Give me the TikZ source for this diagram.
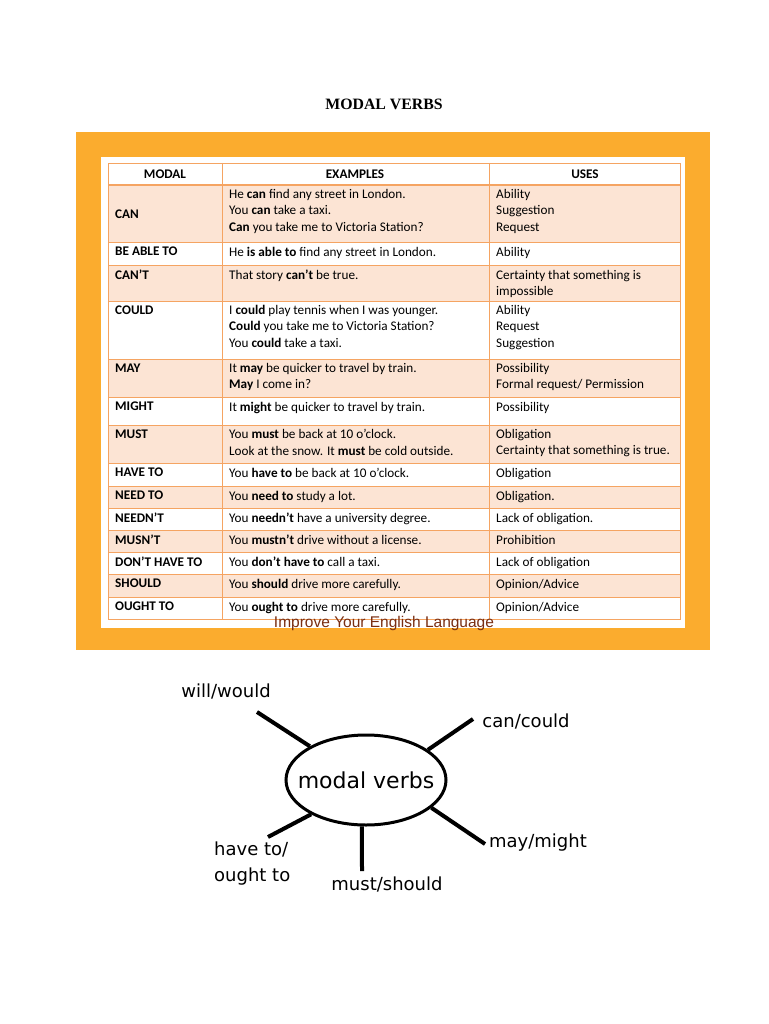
\documentclass[tikz,border=0pt]{standalone}
\usepackage{fontspec}
\usetikzlibrary{shapes.geometric}
\setmainfont{Carlito}
\newfontfamily\mapfont{DejaVu Sans}
\newfontfamily\titlefont{Liberation Serif}
\newfontfamily\arialfont{Liberation Sans}
\definecolor{outer}{HTML}{FBAC2E}
\definecolor{peach}{HTML}{FCE4D4}
\definecolor{grid}{HTML}{F5A462}
\definecolor{wm}{HTML}{7A2E12}
\begin{document}
\begin{tikzpicture}[x=1pt,y=-1pt,
  cell/.style={anchor=north west,inner sep=0pt,align=left,font=\fontsize{13.2}{16.5}\selectfont},
  hdr/.style={inner sep=0pt,font=\fontsize{13.2}{14}\selectfont\bfseries},
  mlab/.style={font=\mapfont\fontsize{18}{26}\selectfont,inner sep=0pt,align=left},
  spoke/.style={line width=4pt}]
\useasboundingbox[fill=white] (0,0) rectangle (768,1024);
\node[font=\titlefont\bfseries\fontsize{15.8}{18}\selectfont] (title) at (384,104) {MODAL VERBS};
\fill[outer] (76,132) rectangle (710,650);
\fill[white] (101,157) rectangle (685,628);
% row fills
\foreach \a/\b in {185/242,265/301,359/397,425/463,486/508,530/552,574/597}
  \fill[peach] (108,\a) rectangle (680,\b);
% grid
\draw[grid,line width=0.8pt] (108,163) rectangle (680,619);
\foreach \y in {242,265,301,359,397,425,463,486,508,530,552,574,597}
  \draw[grid,line width=0.8pt] (108,\y) -- (680,\y);
\draw[grid,line width=2pt] (108,185) -- (680,185);
\draw[grid,line width=0.8pt] (222,163) -- (222,619);
\draw[grid,line width=0.8pt] (489,163) -- (489,619);
% header
\node[hdr] (h1) at (165,174) {MODAL};
\node[hdr] (h2) at (355,174) {EXAMPLES};
\node[hdr] (h3) at (585,174) {USES};
% col 1
\node[cell,font=\fontsize{13.2}{16.5}\selectfont\bfseries,anchor=west] (m1) at (115,214) {CAN};
\foreach \t/\y/\n in {BE ABLE TO/247/m2,CAN’T/270/m3,COULD/306/m4,MAY/364/m5,MIGHT/402/m6,MUST/430/m7,HAVE TO/468/m8,NEED TO/491/m9,NEEDN’T/513/m10,MUSN’T/535/m11,DON’T HAVE TO/557/m12,SHOULD/579/m13,OUGHT TO/602/m14}
  \node[cell,font=\fontsize{13.2}{16.5}\selectfont\bfseries] (\n) at (115,\y) {\t};
% col 2
\node[cell] (e1) at (229,189) {He \textbf{can} find any street in London.\\You \textbf{can} take a taxi.\\\textbf{Can} you take me to Victoria Station?};
\node[cell] (e2) at (229,247) {He \textbf{is able to} find any street in London.};
\node[cell] (e3) at (229,270) {That story \textbf{can’t} be true.};
\node[cell] (e4) at (229,305) {I \textbf{could} play tennis when I was younger.\\\textbf{Could} you take me to Victoria Station?\\You \textbf{could} take a taxi.};
\node[cell] (e5) at (229,363) {It \textbf{may} be quicker to travel by train.\\\textbf{May} I come in?};
\node[cell] (e6) at (229,402) {It \textbf{might} be quicker to travel by train.};
\node[cell] (e7) at (229,429) {You \textbf{must} be back at 10 o’clock.\\Look at the snow. It \textbf{must} be cold outside.};
\node[cell] (e8) at (229,468) {You \textbf{have to} be back at 10 o’clock.};
\node[cell] (e9) at (229,491) {You \textbf{need to} study a lot.};
\node[cell] (e10) at (229,513) {You \textbf{needn’t} have a university degree.};
\node[cell] (e11) at (229,535) {You \textbf{mustn’t} drive without a license.};
\node[cell] (e12) at (229,557) {You \textbf{don’t have to} call a taxi.};
\node[cell] (e13) at (229,579) {You \textbf{should} drive more carefully.};
\node[cell] (e14) at (229,602) {You \textbf{ought to} drive more carefully.};
% col 3
\begin{scope}[every node/.append style={font=\fontsize{13.2}{16.5}\selectfont\itshape}]
\node[cell] (u1) at (496,189) {Ability\\Suggestion\\Request};
\node[cell] (u2) at (496,247) {Ability};
\node[cell] (u3) at (496,270) {Certainty that something is\\impossible};
\node[cell] (u4) at (496,305) {Ability\\Request\\Suggestion};
\node[cell] (u5) at (496,363) {Possibility\\Formal request/ Permission};
\node[cell] (u6) at (496,402) {Possibility};
\node[cell] (u7) at (496,429) {Obligation\\Certainty that something is true.};
\node[cell] (u8) at (496,468) {Obligation};
\node[cell] (u9) at (496,491) {Obligation.};
\node[cell] (u10) at (496,513) {Lack of obligation.};
\node[cell] (u11) at (496,535) {Prohibition};
\node[cell] (u12) at (496,557) {Lack of obligation};
\node[cell] (u13) at (496,579) {Opinion/Advice};
\node[cell] (u14) at (496,602) {Opinion/Advice};
\end{scope}
\node[font=\arialfont\fontsize{15.5}{16}\selectfont,text=wm,inner sep=0pt] (wmk) at (384,623) {Improve Your English Language};
% mind map
\node[draw,line width=3pt,ellipse,minimum width=160pt,minimum height=90pt,inner sep=0pt] (mv) at (366,780) {};
\node[font=\mapfont\fontsize{22}{26}\selectfont,inner sep=0pt] (mvt) at (mv.center) {modal verbs};
\node[mlab] (ww) at (226,691) {will/would};
\node[mlab] (cc) at (526,721) {can/could};
\node[mlab] (mm) at (538,843) {may/might};
\node[mlab] (ms) at (387,884) {must/should};
\node[mlab,anchor=north west] (ht) at (214,842) {have to/\\ought to};
\coordinate (ww1) at (257,712); \coordinate (cc1) at (473,719);
\coordinate (mm1) at (485,844); \coordinate (ms1) at (362,871);
\coordinate (ht1) at (268,837);
\draw[spoke] (ww1) -- (mv.149);
\draw[spoke] (cc1) -- (mv.26);
\draw[spoke] (mm1) -- (mv.-23);
\draw[spoke] (ms1) -- (mv.-95);
\draw[spoke] (ht1) -- (mv.-148);
\end{tikzpicture}
\end{document}
